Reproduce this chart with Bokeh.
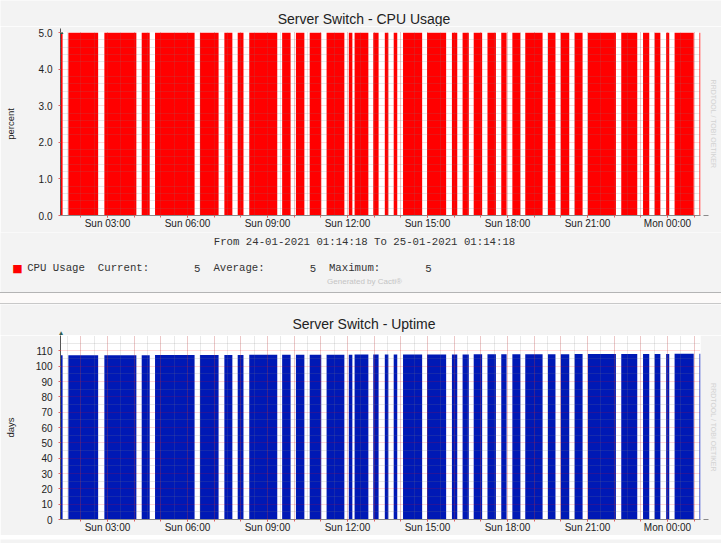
import pandas as pd
from bokeh.plotting import figure
from bokeh.models import (ColumnDataSource, FixedTicker, DatetimeTickFormatter, PrintfTickFormatter,
                          Div, Range1d, LinearAxis, Arrow, NormalHead)
from bokeh.core.properties import value
from bokeh.layouts import column
from bokeh.embed import file_html
from bokeh.resources import INLINE

# graph period
t_from = "2021-01-24 01:14:18"
t_to = "2021-01-25 01:14:18"

# polled intervals (gaps are missing samples), same for both graphs
seg_start = ["2021-01-24 01:14:18", "2021-01-24 01:32", "2021-01-24 02:53", "2021-01-24 04:17",
             "2021-01-24 04:47", "2021-01-24 06:28", "2021-01-24 07:23", "2021-01-24 07:53",
             "2021-01-24 08:19", "2021-01-24 09:33", "2021-01-24 10:04", "2021-01-24 10:35",
             "2021-01-24 11:13", "2021-01-24 12:03", "2021-01-24 12:16", "2021-01-24 12:58",
             "2021-01-24 13:24", "2021-01-24 13:44", "2021-01-24 14:05", "2021-01-24 14:59",
             "2021-01-24 15:55", "2021-01-24 16:19", "2021-01-24 16:44", "2021-01-24 17:15",
             "2021-01-24 17:46", "2021-01-24 18:11", "2021-01-24 18:40", "2021-01-24 19:31",
             "2021-01-24 20:00", "2021-01-24 20:31", "2021-01-24 21:01", "2021-01-24 22:16",
             "2021-01-24 23:05", "2021-01-24 23:31", "2021-01-24 23:57", "2021-01-25 00:16",
             "2021-01-25 01:12"]
seg_end = ["2021-01-24 01:19", "2021-01-24 02:39", "2021-01-24 04:05", "2021-01-24 04:35",
           "2021-01-24 06:16", "2021-01-24 07:10", "2021-01-24 07:41", "2021-01-24 08:06",
           "2021-01-24 09:22", "2021-01-24 09:52", "2021-01-24 10:23", "2021-01-24 11:01",
           "2021-01-24 11:53", "2021-01-24 12:11", "2021-01-24 12:47", "2021-01-24 13:10",
           "2021-01-24 13:32", "2021-01-24 13:52", "2021-01-24 14:48", "2021-01-24 15:42",
           "2021-01-24 16:07", "2021-01-24 16:33", "2021-01-24 17:03", "2021-01-24 17:34",
           "2021-01-24 17:58", "2021-01-24 18:29", "2021-01-24 19:19", "2021-01-24 19:48",
           "2021-01-24 20:19", "2021-01-24 20:49", "2021-01-24 22:04", "2021-01-24 22:52",
           "2021-01-24 23:19", "2021-01-24 23:44", "2021-01-25 00:04", "2021-01-25 00:59",
           "2021-01-25 01:14:18"]

cpu_usage = [5, 5, 5, 5, 5, 5, 5, 5, 5, 5, 5, 5, 5, 5, 5, 5, 5, 5, 5,
             5, 5, 5, 5, 5, 5, 5, 5, 5, 5, 5, 5, 5, 5, 5, 5, 5, 5]
uptime_days = [107.06, 107.1, 107.14, 107.19, 107.24, 107.28, 107.31, 107.33, 107.38, 107.41,
               107.43, 107.46, 107.5, 107.52, 107.54, 107.56, 107.57, 107.58, 107.61, 107.64,
               107.66, 107.68, 107.7, 107.73, 107.74, 107.77, 107.8, 107.83, 107.85, 107.87,
               107.91, 107.95, 107.97, 107.99, 108.0, 108.03, 108.05]

label_times = ["2021-01-24 03:00", "2021-01-24 06:00", "2021-01-24 09:00", "2021-01-24 12:00",
               "2021-01-24 15:00", "2021-01-24 18:00", "2021-01-24 21:00", "2021-01-25 00:00"]

cpu_stats = ["5", "5", "5"]  # current, average, maximum
period_text = "From 24-01-2021 01:14:18 To 25-01-2021 01:14:18"

SANS = "Liberation Sans"
MONO = "Liberation Mono"
W = 721
BG = "#f3f3f3"
ARROW = "#2f5f50"


def ms(ts):
    return pd.Timestamp(ts).value // 10**6


hourly = [ms(t) for t in pd.date_range("2021-01-24 02:00", "2021-01-25 01:00", freq="1h")]
half_hourly = [ms(t) for t in pd.date_range("2021-01-24 01:30", "2021-01-25 01:00", freq="30min")]


def strip(height):
    """plain canvas for the rrdtool texts, y counted from the top"""
    t = figure(width=W, height=height, x_range=Range1d(0, W), y_range=Range1d(height, 0),
               x_axis_location=None, y_axis_location=None, toolbar_location=None,
               output_backend="svg", min_border=0, frame_align=False)
    t.grid.visible = False
    t.outline_line_color = None
    t.background_fill_color = BG
    t.border_fill_color = BG
    return t


def header(title, height, title_y, tip=False):
    t = strip(height)
    t.text(x=[363.5], y=[title_y], text=[title], text_font=value(SANS),
           text_font_size=value("14px"), text_align="center", text_baseline="middle",
           text_color="#222222")
    if tip:  # arrow tip of the y axis
        t.text(x=[60.5], y=[height], text=["▲"], text_font=value("DejaVu Sans"),
               text_font_size=value("6px"), text_align="center", text_baseline="bottom",
               text_color=ARROW)
    return t


def graph(ylabel, values, color, y_end, y_major, y_minor, y_fmt, label_standoff,
          height, b_top, b_bottom, y_tip):
    p = figure(width=W, height=height, x_axis_type="datetime",
               x_range=Range1d(pd.Timestamp(t_from), pd.Timestamp(t_to)),
               y_range=Range1d(0, y_end),
               output_backend="svg", toolbar_location=None, frame_align=False,
               min_border_left=60, min_border_right=21,
               min_border_top=b_top, min_border_bottom=b_bottom)
    p.border_fill_color = BG
    p.background_fill_color = "white"
    p.outline_line_color = None
    frame_h = height - b_top - b_bottom

    src = ColumnDataSource(dict(left=pd.to_datetime(seg_start, format="ISO8601"),
                                right=pd.to_datetime(seg_end, format="ISO8601"),
                                top=values))
    p.quad(left="left", right="right", bottom=0, top="top", source=src,
           fill_color=color, line_color=None)

    # grid: red major, gray minor, drawn over the data like rrdtool
    for g in (p.xgrid, p.ygrid):
        g.level = "overlay"
        g.grid_line_color = "#ff0000"
        g.grid_line_alpha = 0.3
        g.grid_line_dash = "1 1"
        g.minor_grid_line_color = "#808080"
        g.minor_grid_line_alpha = 0.35
        g.minor_grid_line_dash = "1 1"
    p.xgrid.ticker = FixedTicker(ticks=hourly, minor_ticks=half_hourly)
    p.ygrid.ticker = FixedTicker(ticks=y_major, minor_ticks=y_minor)

    xa = p.xaxis[0]
    xa.ticker = FixedTicker(ticks=[ms(t) for t in label_times], minor_ticks=hourly)
    xa.formatter = DatetimeTickFormatter(hours="%a %H:%M", hourmin="%a %H:%M", days="%a %H:%M",
                                         minutes="%a %H:%M", context=None)
    xa.axis_line_color = "#8a8a8a"
    xa.major_tick_line_color = "#e06060"
    xa.minor_tick_line_color = "#e06060"
    xa.major_tick_out = 2
    xa.major_tick_in = 0
    xa.minor_tick_out = 2
    xa.minor_tick_in = 0
    xa.major_label_standoff = 0
    xa.major_label_text_font = SANS
    xa.major_label_text_font_size = "10px"
    xa.major_label_text_color = "#222222"

    ya = p.yaxis[0]
    ya.ticker = FixedTicker(ticks=y_major)
    ya.formatter = PrintfTickFormatter(format=y_fmt)
    ya.axis_line_color = "#555555"
    ya.major_tick_line_color = "#e06060"
    ya.major_tick_out = 2
    ya.major_tick_in = 0
    ya.minor_tick_line_color = None
    ya.major_label_standoff = 6
    ya.major_label_text_font = SANS
    ya.major_label_text_font_size = "10px"
    ya.major_label_text_color = "#222222"
    ya.axis_label = ylabel
    ya.axis_label_standoff = label_standoff
    ya.axis_label_text_font = SANS
    ya.axis_label_text_font_style = "normal"
    ya.axis_label_text_font_size = "9.5px"
    ya.axis_label_text_color = "#222222"

    # faint rrdtool watermark on the right edge
    mark = LinearAxis(ticker=FixedTicker(ticks=[]), axis_line_color=None,
                      axis_label="RRDTOOL / TOBI OETIKER", axis_label_standoff=9,
                      axis_label_text_font=SANS, axis_label_text_font_style="normal",
                      axis_label_text_font_size="7px", axis_label_text_color="#d2d2d2")
    p.add_layout(mark, "right")

    # axis arrows (screen units relative to the plot frame)
    p.add_layout(Arrow(end=NormalHead(size=5, fill_color=ARROW, line_color=ARROW),
                       x_start=640, y_start=0, x_end=648, y_end=0,
                       start_units="screen", end_units="screen",
                       line_color="#8a8a8a", line_width=1))
    if y_tip:
        p.add_layout(Arrow(end=NormalHead(size=5, fill_color=ARROW, line_color=ARROW),
                           x_start=0, y_start=frame_h, x_end=0, y_end=frame_h + 4,
                           start_units="screen", end_units="screen",
                           line_color="#555555", line_width=1))
    return p


# ---- CPU usage graph
h1 = header("Server Switch - CPU Usage", 26, 18)
p1 = graph("percent", cpu_usage, "#ff0000", 5,
           [0, 1, 2, 3, 4, 5], [0.2, 0.4, 0.6, 0.8, 1.2, 1.4, 1.6, 1.8, 2.2, 2.4, 2.6, 2.8,
                                3.2, 3.4, 3.6, 3.8, 4.2, 4.4, 4.6, 4.8],
           "%.1f", 20, 206, 6, 17, True)

f1 = strip(60)
f1.text(x=[364], y=[9], text=[period_text], text_font=value(MONO),
        text_font_size=value("10.7px"), text_align="center", text_baseline="middle",
        text_color="#333333")
f1.text(x=[17], y=[35.5], text=["■"], text_font=value("DejaVu Sans"),
        text_font_size=value("11px"), text_align="center", text_baseline="middle",
        text_color="#ff0000")
cw = 6.42
legend_text = ["CPU Usage", "Current:", cpu_stats[0], "Average:", cpu_stats[1],
               "Maximum:", cpu_stats[2]]
legend_col = [0, 11, 26, 29, 44, 47, 62]
f1.text(x=[26.7 + c * cw for c in legend_col], y=[35.5] * len(legend_col), text=legend_text,
        text_font=value(MONO), text_font_size=value("10.7px"), text_align="left",
        text_baseline="middle", text_color="#333333")
f1.text(x=[364], y=[49], text=["Generated by Cacti®"], text_font=value(SANS),
        text_font_size=value("8px"), text_align="center", text_baseline="middle",
        text_color="#c4c4c4")

sep = Div(text="", width=W, height=12, margin=(0, 0, 0, 0),
          styles={"background-color": "#fcfaf9", "border-top": "1px solid #b4b4b4",
                  "border-bottom": "1px solid #c8c8c8", "box-sizing": "border-box"})

# ---- uptime graph
h2 = header("Server Switch - Uptime", 31, 19, tip=True)
p2 = graph("days", uptime_days, "#0019b5", 120,
           [0, 10, 20, 30, 40, 50, 60, 70, 80, 90, 100, 110],
           [5, 15, 25, 35, 45, 55, 65, 75, 85, 95, 105, 115],
           "%d", 17, 200, 0, 16, False)
f2 = strip(8)
f2.text(x=[364], y=[4], text=[period_text], text_font=value(MONO),
        text_font_size=value("10.7px"), text_align="center", text_baseline="top",
        text_color="#333333")

layout = column(h1, p1, f1, sep, h2, p2, f2, spacing=0)
open("out.html", "w").write(file_html(layout, INLINE))
